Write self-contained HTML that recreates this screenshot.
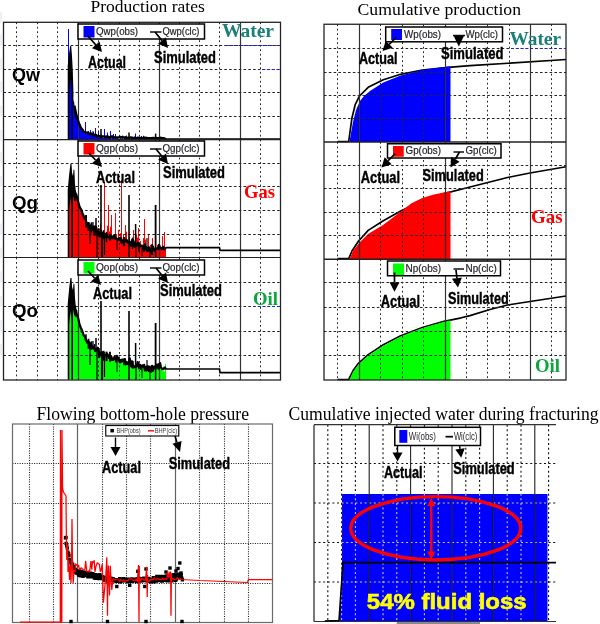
<!DOCTYPE html>
<html><head><meta charset="utf-8"><title>Production history match</title>
<style>html,body{margin:0;padding:0;background:#fff}svg{display:block}</style></head>
<body>
<svg width="600" height="624" viewBox="0 0 600 624">
<defs><filter id="soft" x="0" y="0" width="600" height="624" filterUnits="userSpaceOnUse"><feGaussianBlur stdDeviation="0.45"/></filter></defs>
<rect width="600" height="624" fill="#fff"/>
<g filter="url(#soft)">
<text x="90.5" y="12.1" font-family='"Liberation Serif","Times New Roman",serif' font-size="17.5" font-weight="normal" fill="#000" textLength="114.3" lengthAdjust="spacingAndGlyphs" >Production rates</text>
<text x="357.5" y="15.1" font-family='"Liberation Serif","Times New Roman",serif' font-size="17.6" font-weight="normal" fill="#000" textLength="163.5" lengthAdjust="spacingAndGlyphs" >Cumulative production</text>
<text x="36.5" y="419.8" font-family='"Liberation Serif","Times New Roman",serif' font-size="18" font-weight="normal" fill="#000" textLength="212.5" lengthAdjust="spacingAndGlyphs" >Flowing bottom-hole pressure</text>
<text x="288.5" y="419.8" font-family='"Liberation Serif","Times New Roman",serif' font-size="18" font-weight="normal" fill="#000" textLength="310.0" lengthAdjust="spacingAndGlyphs" >Cumulative injected water during fracturing</text>
<path d="M68,139.1 V29.0 H69 V54.5 H70 V54.9 H71 V62.6 H72 V80.1 H73 V101.2 H74 V107.2 H75 V111.7 H76 V115.7 H77 V119.1 H78 V121.9 H79 V124.9 H80 V127.6 H81 V128.5 H82 V131.2 H83 V131.5 H84 V132.3 H85 V122.0 H86 V133.9 H87 V131.6 H88 V131.1 H89 V134.1 H90 V130.0 H91 V134.9 H92 V134.9 H93 V132.0 H94 V135.1 H95 V128.0 H96 V136.7 H97 V136.7 H98 V132.0 H99 V137.2 H100 V137.5 H101 V136.6 H102 V136.7 H103 V137.9 H104 V129.0 H105 V138.0 H106 V137.1 H107 V132.5 H108 V137.5 H109 V137.6 H110 V131.0 H111 V138.3 H112 V137.8 H113 V134.1 H114 V138.3 H115 V134.0 H116 V138.6 H117 V137.8 H118 V138.9 H119 V138.8 H120 V137.9 H121 V138.9 H122 V137.4 H123 V138.8 H124 V136.7 H125 V138.0 H126 V135.4 H127 V139.1 H128 V139.0 H129 V138.1 H130 V138.6 H131 V137.7 H132 V139.1 H133 V139.1 H134 V138.6 H135 V133.6 H136 V138.9 H137 V136.7 H138 V137.2 H139 V139.1 H140 V139.1 H141 V136.0 H142 V137.7 H143 V135.8 H144 V138.4 H145 V136.8 H146 V138.7 H147 V138.6 H148 V138.5 H149 V139.1 H150 V138.3 H151 V139.1 H152 V138.5 H153 V138.4 H154 V138.6 H155 V138.8 H156 V137.7 H157 V138.9 H158 V138.9 H159 V139.1 H160 V139.1 H161 V139.1 H162 V139.1 H163 V139.1 H164 V139.1 H165 V139.1 H166 V139.1 Z" fill="#0000ff"/>
<path d="M68,257.0 V199.2 H69 V196.8 H70 V192.9 H71 V191.3 H72 V189.9 H73 V190.7 H74 V191.1 H75 V193.1 H76 V195.9 H77 V198.8 H78 V202.7 H79 V205.6 H80 V209.2 H81 V211.9 H82 V214.1 H83 V216.0 H84 V217.9 H85 V220.2 H86 V222.3 H87 V222.9 H88 V225.2 H89 V227.6 H90 V228.2 H91 V228.9 H92 V229.5 H93 V229.3 H94 V230.1 H95 V231.6 H96 V227.7 H97 V228.5 H98 V228.1 H99 V234.2 H100 V223.2 H101 V229.6 H102 V234.9 H103 V234.6 H104 V182.0 H105 V235.2 H106 V235.7 H107 V225.8 H108 V205.0 H109 V231.6 H110 V226.7 H111 V215.0 H112 V239.0 H113 V237.4 H114 V237.7 H115 V213.0 H116 V234.3 H117 V239.1 H118 V230.0 H119 V240.2 H120 V233.3 H121 V181.0 H122 V241.1 H123 V234.2 H124 V240.2 H125 V225.0 H126 V231.7 H127 V242.1 H128 V242.1 H129 V237.0 H130 V242.5 H131 V241.4 H132 V243.7 H133 V230.0 H134 V243.6 H135 V245.2 H136 V234.2 H137 V237.5 H138 V228.0 H139 V245.6 H140 V241.1 H141 V247.2 H142 V246.8 H143 V238.0 H144 V219.0 H145 V239.6 H146 V249.4 H147 V249.7 H148 V235.0 H149 V250.3 H150 V244.9 H151 V249.6 H152 V238.0 H153 V249.0 H154 V248.2 H155 V248.7 H156 V248.8 H157 V245.1 H158 V247.3 H159 V246.8 H160 V247.6 H161 V248.9 H162 V236.0 H163 V247.1 H164 V232.0 H165 V248.0 H166 V257.0 Z" fill="#ff0000"/>
<path d="M68,379.5 V317.7 H69 V313.2 H70 V308.1 H71 V302.3 H72 V302.4 H73 V304.3 H74 V307.1 H75 V310.0 H76 V313.8 H77 V318.1 H78 V320.7 H79 V324.5 H80 V326.9 H81 V330.6 H82 V332.8 H83 V335.2 H84 V338.4 H85 V338.8 H86 V341.2 H87 V339.7 H88 V344.2 H89 V344.9 H90 V346.2 H91 V347.1 H92 V347.9 H93 V347.6 H94 V349.4 H95 V348.9 H96 V348.6 H97 V348.3 H98 V351.2 H99 V351.9 H100 V352.3 H101 V353.8 H102 V354.3 H103 V354.7 H104 V352.3 H105 V355.8 H106 V355.2 H107 V354.0 H108 V357.1 H109 V357.4 H110 V357.6 H111 V358.4 H112 V358.1 H113 V359.0 H114 V359.0 H115 V357.2 H116 V359.5 H117 V360.1 H118 V359.4 H119 V359.9 H120 V360.5 H121 V358.4 H122 V360.7 H123 V362.4 H124 V361.3 H125 V361.6 H126 V363.1 H127 V363.3 H128 V362.4 H129 V361.5 H130 V364.0 H131 V364.3 H132 V363.7 H133 V364.7 H134 V365.2 H135 V365.0 H136 V367.0 H137 V366.8 H138 V364.9 H139 V368.0 H140 V367.8 H141 V367.6 H142 V368.4 H143 V366.6 H144 V367.8 H145 V369.3 H146 V368.3 H147 V368.4 H148 V369.2 H149 V369.3 H150 V369.4 H151 V369.6 H152 V369.3 H153 V368.4 H154 V368.4 H155 V368.0 H156 V368.2 H157 V367.3 H158 V368.7 H159 V368.6 H160 V368.4 H161 V369.1 H162 V370.2 H163 V371.2 H164 V371.4 H165 V364.0 H166 V379.5 Z" fill="#00ff00"/>
<line x1="16.5" y1="22.3" x2="16.5" y2="139.6" stroke="#262626" stroke-width="1.0" stroke-dasharray="1.8 2.7"/>
<line x1="37.5" y1="22.3" x2="37.5" y2="139.6" stroke="#262626" stroke-width="1.0" stroke-dasharray="1.8 2.7"/>
<line x1="57.5" y1="22.3" x2="57.5" y2="139.6" stroke="#262626" stroke-width="1.0" stroke-dasharray="1.8 2.7"/>
<line x1="98.5" y1="22.3" x2="98.5" y2="139.6" stroke="#262626" stroke-width="1.0" stroke-dasharray="1.8 2.7"/>
<line x1="119.5" y1="22.3" x2="119.5" y2="139.6" stroke="#262626" stroke-width="1.0" stroke-dasharray="1.8 2.7"/>
<line x1="139.5" y1="22.3" x2="139.5" y2="139.6" stroke="#262626" stroke-width="1.0" stroke-dasharray="1.8 2.7"/>
<line x1="179.5" y1="22.3" x2="179.5" y2="139.6" stroke="#262626" stroke-width="1.0" stroke-dasharray="1.8 2.7"/>
<line x1="199.5" y1="22.3" x2="199.5" y2="139.6" stroke="#262626" stroke-width="1.0" stroke-dasharray="1.8 2.7"/>
<line x1="219.5" y1="22.3" x2="219.5" y2="139.6" stroke="#262626" stroke-width="1.0" stroke-dasharray="1.8 2.7"/>
<line x1="260.5" y1="22.3" x2="260.5" y2="139.6" stroke="#262626" stroke-width="1.0" stroke-dasharray="1.8 2.7"/>
<line x1="78.5" y1="22.3" x2="78.5" y2="139.6" stroke="#333" stroke-width="1.2"/>
<line x1="159.5" y1="22.3" x2="159.5" y2="139.6" stroke="#333" stroke-width="1.2"/>
<line x1="240.5" y1="22.3" x2="240.5" y2="139.6" stroke="#333" stroke-width="1.2"/>
<line x1="3.5" y1="45.5" x2="280.5" y2="45.5" stroke="#262626" stroke-width="1.0" stroke-dasharray="2.6 2.2"/>
<line x1="3.5" y1="69.5" x2="280.5" y2="69.5" stroke="#262626" stroke-width="1.0" stroke-dasharray="2.6 2.2"/>
<line x1="3.5" y1="92.5" x2="280.5" y2="92.5" stroke="#262626" stroke-width="1.0" stroke-dasharray="2.6 2.2"/>
<line x1="3.5" y1="116.5" x2="280.5" y2="116.5" stroke="#262626" stroke-width="1.0" stroke-dasharray="2.6 2.2"/>
<line x1="16.5" y1="139.6" x2="16.5" y2="257.5" stroke="#262626" stroke-width="1.0" stroke-dasharray="1.8 2.7"/>
<line x1="37.5" y1="139.6" x2="37.5" y2="257.5" stroke="#262626" stroke-width="1.0" stroke-dasharray="1.8 2.7"/>
<line x1="57.5" y1="139.6" x2="57.5" y2="257.5" stroke="#262626" stroke-width="1.0" stroke-dasharray="1.8 2.7"/>
<line x1="98.5" y1="139.6" x2="98.5" y2="257.5" stroke="#262626" stroke-width="1.0" stroke-dasharray="1.8 2.7"/>
<line x1="119.5" y1="139.6" x2="119.5" y2="257.5" stroke="#262626" stroke-width="1.0" stroke-dasharray="1.8 2.7"/>
<line x1="139.5" y1="139.6" x2="139.5" y2="257.5" stroke="#262626" stroke-width="1.0" stroke-dasharray="1.8 2.7"/>
<line x1="179.5" y1="139.6" x2="179.5" y2="257.5" stroke="#262626" stroke-width="1.0" stroke-dasharray="1.8 2.7"/>
<line x1="199.5" y1="139.6" x2="199.5" y2="257.5" stroke="#262626" stroke-width="1.0" stroke-dasharray="1.8 2.7"/>
<line x1="219.5" y1="139.6" x2="219.5" y2="257.5" stroke="#262626" stroke-width="1.0" stroke-dasharray="1.8 2.7"/>
<line x1="260.5" y1="139.6" x2="260.5" y2="257.5" stroke="#262626" stroke-width="1.0" stroke-dasharray="1.8 2.7"/>
<line x1="78.5" y1="139.6" x2="78.5" y2="257.5" stroke="#333" stroke-width="1.2"/>
<line x1="159.5" y1="139.6" x2="159.5" y2="257.5" stroke="#333" stroke-width="1.2"/>
<line x1="240.5" y1="139.6" x2="240.5" y2="257.5" stroke="#333" stroke-width="1.2"/>
<line x1="3.5" y1="163.5" x2="280.5" y2="163.5" stroke="#262626" stroke-width="1.0" stroke-dasharray="2.6 2.2"/>
<line x1="3.5" y1="186.5" x2="280.5" y2="186.5" stroke="#262626" stroke-width="1.0" stroke-dasharray="2.6 2.2"/>
<line x1="3.5" y1="210.5" x2="280.5" y2="210.5" stroke="#262626" stroke-width="1.0" stroke-dasharray="2.6 2.2"/>
<line x1="3.5" y1="234.5" x2="280.5" y2="234.5" stroke="#262626" stroke-width="1.0" stroke-dasharray="2.6 2.2"/>
<line x1="16.5" y1="257.5" x2="16.5" y2="380" stroke="#262626" stroke-width="1.0" stroke-dasharray="1.8 2.7"/>
<line x1="37.5" y1="257.5" x2="37.5" y2="380" stroke="#262626" stroke-width="1.0" stroke-dasharray="1.8 2.7"/>
<line x1="57.5" y1="257.5" x2="57.5" y2="380" stroke="#262626" stroke-width="1.0" stroke-dasharray="1.8 2.7"/>
<line x1="98.5" y1="257.5" x2="98.5" y2="380" stroke="#262626" stroke-width="1.0" stroke-dasharray="1.8 2.7"/>
<line x1="119.5" y1="257.5" x2="119.5" y2="380" stroke="#262626" stroke-width="1.0" stroke-dasharray="1.8 2.7"/>
<line x1="139.5" y1="257.5" x2="139.5" y2="380" stroke="#262626" stroke-width="1.0" stroke-dasharray="1.8 2.7"/>
<line x1="179.5" y1="257.5" x2="179.5" y2="380" stroke="#262626" stroke-width="1.0" stroke-dasharray="1.8 2.7"/>
<line x1="199.5" y1="257.5" x2="199.5" y2="380" stroke="#262626" stroke-width="1.0" stroke-dasharray="1.8 2.7"/>
<line x1="219.5" y1="257.5" x2="219.5" y2="380" stroke="#262626" stroke-width="1.0" stroke-dasharray="1.8 2.7"/>
<line x1="260.5" y1="257.5" x2="260.5" y2="380" stroke="#262626" stroke-width="1.0" stroke-dasharray="1.8 2.7"/>
<line x1="78.5" y1="257.5" x2="78.5" y2="380" stroke="#333" stroke-width="1.2"/>
<line x1="159.5" y1="257.5" x2="159.5" y2="380" stroke="#333" stroke-width="1.2"/>
<line x1="240.5" y1="257.5" x2="240.5" y2="380" stroke="#333" stroke-width="1.2"/>
<line x1="3.5" y1="282.5" x2="280.5" y2="282.5" stroke="#262626" stroke-width="1.0" stroke-dasharray="2.6 2.2"/>
<line x1="3.5" y1="306.5" x2="280.5" y2="306.5" stroke="#262626" stroke-width="1.0" stroke-dasharray="2.6 2.2"/>
<line x1="3.5" y1="331.5" x2="280.5" y2="331.5" stroke="#262626" stroke-width="1.0" stroke-dasharray="2.6 2.2"/>
<line x1="3.5" y1="355.5" x2="280.5" y2="355.5" stroke="#262626" stroke-width="1.0" stroke-dasharray="2.6 2.2"/>
<path d="M67.7,139.1 L67.7,66 L69,54 L70.2,46 L71.2,46 L72,56 L72.8,71 L73.6,98 L75,109.0 L76.2,113.0 L75.6,120.0 L74,110 L73,94 L73,139.1 L71.4,139.1 L71.4,88 L70.4,79 L69.3,92 L69.3,139.1 Z" fill="#000"/>
<path d="M74.5,105.8 L75.3,110.1 L76.1,113.4 L76.9,116.5 L77.7,119.6 L78.5,121.9 L79.3,124.1 L80.1,125.8 L80.9,127.6 L81.7,128.8 L82.5,129.6 L83.3,131.1 L84.1,131.9 L84.9,132.3 L85.7,132.7 L86.5,132.5 L87.3,132.9 L88.1,133.7 L88.9,133.4 L89.7,133.8 L90.5,133.4 L91.3,133.8 L92.1,133.7 L92.9,135.1 L93.7,135.4 L94.5,134.7 L95.3,135.0 L96.1,135.0 L96.9,136.7 L97.7,136.1 L98.5,135.6 L99.3,136.2 L100.1,136.7 L100.9,135.6 L101.7,136.4 L102.5,136.5 L103.3,136.3 L104.1,136.7 L104.9,137.0 L105.7,136.5 L106.5,136.3 L107.3,137.0 L108.1,136.7 L108.9,136.9 L109.7,137.7 L110.5,137.0 L111.3,136.8 L112.1,136.3 L112.9,137.2 L113.7,137.2 L114.5,137.4 L115.3,137.4 L116.1,137.6 L116.9,137.4 L117.7,137.4 L118.5,137.7 L119.3,137.1 L120.1,137.0 L120.9,137.1 L121.7,137.6 L122.5,136.7 L123.3,137.4 L124.1,137.6 L124.9,137.9 L125.7,137.2 L126.5,137.8 L127.3,137.8 L128.1,137.6 L128.9,137.9 L129.7,137.8 L130.5,137.4 L131.3,137.8 L132.1,137.6 L132.9,138.1 L133.7,138.0 L134.5,137.8 L135.3,137.4 L136.1,138.1 L136.9,138.1 L137.7,138.1 L138.5,137.6 L139.3,137.8 L140.1,137.8 L140.9,138.1 L141.7,137.9 L142.5,138.1 L143.3,138.1 L144.1,137.5 L144.9,138.1 L145.7,138.1 L146.5,137.7 L147.3,138.1 L148.1,138.1 L148.9,138.1 L149.7,138.1 L150.5,138.1 L151.3,138.1 L152.1,138.1 L152.9,138.0 L153.7,138.0 L154.5,138.1 L155.3,138.1 L156.1,137.8 L156.9,138.1 L157.7,138.1 L158.5,138.1 L159.3,138.1 L160.1,138.0 L160.9,137.7 L161.7,138.1 L162.5,138.1 L163.3,138.1 L164.1,138.1 L164.9,138.1" fill="none" stroke="#000" stroke-width="2.3" stroke-linejoin="round"/>
<path d="M164.9,138.1 L166,138.9 L200,139 L280.5,139" fill="none" stroke="#000" stroke-width="1.7" stroke-linejoin="miter"/>
<line x1="101" y1="129" x2="101" y2="138.1" stroke="#000" stroke-width="1.5"/>
<line x1="129" y1="132.4" x2="129" y2="139.9" stroke="#000" stroke-width="1.5"/>
<line x1="155.6" y1="133.6" x2="155.6" y2="140.6" stroke="#000" stroke-width="1.5"/>
<line x1="93" y1="131" x2="93" y2="136.7" stroke="#000" stroke-width="1"/>
<path d="M67.7,257.0 L67.7,190 L69.2,174 L70.4,164 L71.5,164 L72.1,173 L73,176 L73.5,169.5 L74.4,170 L75,184 L76.2,194.2 L75.6,201.2 L74.2,201 L73,195 L73,257.0 L71.4,257.0 L71.4,206 L70.4,197 L69.3,210 L69.3,257.0 Z" fill="#000"/>
<path d="M74.5,190.6 L75.3,192.7 L76.1,194.2 L76.9,196.9 L77.7,200.1 L78.5,203.4 L79.3,205.9 L80.1,207.8 L80.9,209.3 L81.7,210.4 L82.5,213.8 L83.3,214.9 L84.1,218.1 L84.9,218.8 L85.7,219.1 L86.5,223.5 L87.3,223.1 L88.1,223.1 L88.9,225.6 L89.7,226.6 L90.5,227.9 L91.3,224.7 L92.1,228.4 L92.9,229.6 L93.7,227.1 L94.5,232.1 L95.3,230.0 L96.1,227.0 L96.9,234.1 L97.7,231.0 L98.5,232.3 L99.3,232.3 L100.1,236.6 L100.9,233.5 L101.7,232.5 L102.5,232.9 L103.3,235.4 L104.1,235.8 L104.9,233.8 L105.7,237.1 L106.5,234.4 L107.3,236.3 L108.1,237.3 L108.9,237.2 L109.7,237.5 L110.5,237.7 L111.3,236.4 L112.1,237.9 L112.9,238.3 L113.7,235.6 L114.5,235.4 L115.3,238.7 L116.1,238.3 L116.9,238.8 L117.7,240.0 L118.5,239.5 L119.3,238.0 L120.1,240.1 L120.9,238.1 L121.7,242.7 L122.5,241.7 L123.3,240.1 L124.1,239.1 L124.9,241.5 L125.7,240.5 L126.5,239.7 L127.3,242.2 L128.1,241.7 L128.9,243.3 L129.7,241.7 L130.5,245.7 L131.3,245.7 L132.1,240.1 L132.9,239.6 L133.7,241.9 L134.5,246.7 L135.3,245.4 L136.1,244.8 L136.9,245.4 L137.7,243.0 L138.5,245.8 L139.3,244.0 L140.1,246.5 L140.9,245.8 L141.7,245.7 L142.5,245.9 L143.3,248.2 L144.1,250.8 L144.9,244.5 L145.7,249.1 L146.5,247.3 L147.3,251.0 L148.1,250.5 L148.9,247.3 L149.7,249.2 L150.5,251.6 L151.3,251.8 L152.1,247.6 L152.9,246.7 L153.7,248.9 L154.5,250.6 L155.3,249.7 L156.1,248.5 L156.9,248.7 L157.7,248.5 L158.5,247.5 L159.3,245.6 L160.1,248.4 L160.9,248.0 L161.7,249.0 L162.5,247.5 L163.3,246.8 L164.1,249.3 L164.9,249.6" fill="none" stroke="#000" stroke-width="2.3" stroke-linejoin="round"/>
<path d="M164.9,249.6 L166,247.7 L219.5,247.7 L220,250.4 L280.5,250.4" fill="none" stroke="#000" stroke-width="1.7" stroke-linejoin="miter"/>
<line x1="101" y1="185" x2="101" y2="235.4" stroke="#000" stroke-width="1.6"/>
<line x1="129" y1="195" x2="129" y2="243.7" stroke="#000" stroke-width="1.6"/>
<line x1="155.6" y1="205" x2="155.6" y2="249.9" stroke="#000" stroke-width="1.8"/>
<line x1="135.6" y1="224" x2="135.6" y2="246.2" stroke="#000" stroke-width="1.5"/>
<line x1="96" y1="218" x2="96" y2="232.6" stroke="#000" stroke-width="1.5"/>
<line x1="93" y1="222" x2="93" y2="230.8" stroke="#000" stroke-width="1.2"/>
<line x1="147" y1="238" x2="147" y2="250.1" stroke="#000" stroke-width="1.2"/>
<line x1="86" y1="215.0" x2="86" y2="227.2" stroke="#000" stroke-width="1.9"/>
<line x1="88.5" y1="222.2" x2="88.5" y2="231.0" stroke="#000" stroke-width="2.4"/>
<line x1="91.5" y1="222.3" x2="91.5" y2="232.6" stroke="#000" stroke-width="1.7"/>
<line x1="94.5" y1="225.4" x2="94.5" y2="235.7" stroke="#000" stroke-width="2.4"/>
<line x1="99" y1="228.4" x2="99" y2="236.9" stroke="#000" stroke-width="1.6"/>
<line x1="103.5" y1="230.2" x2="103.5" y2="239.1" stroke="#000" stroke-width="1.5"/>
<line x1="106.5" y1="231.8" x2="106.5" y2="242.2" stroke="#000" stroke-width="1.5"/>
<line x1="110" y1="234.0" x2="110" y2="240.5" stroke="#000" stroke-width="2.2"/>
<line x1="124" y1="237.0" x2="124" y2="246.3" stroke="#000" stroke-width="2.3"/>
<line x1="132.5" y1="237.5" x2="132.5" y2="249.0" stroke="#000" stroke-width="1.4"/>
<line x1="139" y1="241.8" x2="139" y2="251.7" stroke="#000" stroke-width="1.5"/>
<line x1="152" y1="244.2" x2="152" y2="255.0" stroke="#000" stroke-width="2.3"/>
<line x1="158.5" y1="243.9" x2="158.5" y2="249.9" stroke="#000" stroke-width="1.2"/>
<line x1="90" y1="227.0" x2="90" y2="244" stroke="#000" stroke-width="1.3"/>
<line x1="97" y1="231.2" x2="97" y2="257" stroke="#000" stroke-width="1.3"/>
<line x1="102" y1="233.8" x2="102" y2="257" stroke="#000" stroke-width="2.2"/>
<line x1="104.5" y1="234.8" x2="104.5" y2="255" stroke="#000" stroke-width="1.2"/>
<line x1="129" y1="241.7" x2="129" y2="257" stroke="#000" stroke-width="1.5"/>
<line x1="136" y1="244.4" x2="136" y2="257" stroke="#000" stroke-width="1.2"/>
<line x1="117" y1="238.4" x2="117" y2="250" stroke="#000" stroke-width="1"/>
<line x1="142" y1="246.6" x2="142" y2="256" stroke="#000" stroke-width="1"/>
<line x1="155.6" y1="247.9" x2="155.6" y2="257" stroke="#000" stroke-width="1.5"/>
<line x1="150" y1="249.0" x2="150" y2="257" stroke="#000" stroke-width="1"/>
<path d="M67.7,379.5 L67.7,304 L69.2,288 L70.4,278 L71.5,278 L72.1,287 L73,290 L73.5,283.5 L74.4,284 L75,298 L76.2,310.8 L75.6,317.8 L74.2,315 L73,309 L73,379.5 L71.4,379.5 L71.4,320 L70.4,311 L69.3,324 L69.3,379.5 Z" fill="#000"/>
<path d="M74.5,305.6 L75.3,308.8 L76.1,311.0 L76.9,315.2 L77.7,316.8 L78.5,319.7 L79.3,323.6 L80.1,325.8 L80.9,327.9 L81.7,329.7 L82.5,331.9 L83.3,334.2 L84.1,336.1 L84.9,336.6 L85.7,339.8 L86.5,340.7 L87.3,342.9 L88.1,343.1 L88.9,341.9 L89.7,348.1 L90.5,343.4 L91.3,346.8 L92.1,345.6 L92.9,348.1 L93.7,347.6 L94.5,348.8 L95.3,351.0 L96.1,349.5 L96.9,349.6 L97.7,347.7 L98.5,350.6 L99.3,356.9 L100.1,353.7 L100.9,353.4 L101.7,352.3 L102.5,354.2 L103.3,356.4 L104.1,353.4 L104.9,355.2 L105.7,355.7 L106.5,355.9 L107.3,354.0 L108.1,355.6 L108.9,357.9 L109.7,355.8 L110.5,359.3 L111.3,356.5 L112.1,359.9 L112.9,359.9 L113.7,359.0 L114.5,357.0 L115.3,357.8 L116.1,361.6 L116.9,356.0 L117.7,358.3 L118.5,358.0 L119.3,361.1 L120.1,362.2 L120.9,360.0 L121.7,361.6 L122.5,359.6 L123.3,360.7 L124.1,359.3 L124.9,359.1 L125.7,364.3 L126.5,362.1 L127.3,362.8 L128.1,364.0 L128.9,361.9 L129.7,358.3 L130.5,362.0 L131.3,366.3 L132.1,361.4 L132.9,367.7 L133.7,365.7 L134.5,367.2 L135.3,367.1 L136.1,366.6 L136.9,365.6 L137.7,362.1 L138.5,366.6 L139.3,364.5 L140.1,365.0 L140.9,368.7 L141.7,365.9 L142.5,365.5 L143.3,367.0 L144.1,364.9 L144.9,370.3 L145.7,367.2 L146.5,370.4 L147.3,366.4 L148.1,366.3 L148.9,371.0 L149.7,366.7 L150.5,371.4 L151.3,371.5 L152.1,365.9 L152.9,370.8 L153.7,366.8 L154.5,366.6 L155.3,368.0 L156.1,365.3 L156.9,364.7 L157.7,366.7 L158.5,368.3 L159.3,367.3 L160.1,363.1 L160.9,367.4 L161.7,368.3 L162.5,369.2 L163.3,369.1 L164.1,368.5 L164.9,366.8" fill="none" stroke="#000" stroke-width="2.3" stroke-linejoin="round"/>
<path d="M164.9,366.8 L166,369 L219.5,369 L220,372.6 L280.5,372.6" fill="none" stroke="#000" stroke-width="1.7" stroke-linejoin="miter"/>
<line x1="101" y1="301" x2="101" y2="354.5" stroke="#000" stroke-width="1.6"/>
<line x1="129" y1="311" x2="129" y2="364.7" stroke="#000" stroke-width="1.6"/>
<line x1="155.6" y1="323" x2="155.6" y2="369.9" stroke="#000" stroke-width="1.8"/>
<line x1="135.6" y1="343" x2="135.6" y2="367.2" stroke="#000" stroke-width="1.5"/>
<line x1="96" y1="338" x2="96" y2="351.2" stroke="#000" stroke-width="1.5"/>
<line x1="93" y1="341" x2="93" y2="349.1" stroke="#000" stroke-width="1.2"/>
<line x1="147" y1="360" x2="147" y2="370.4" stroke="#000" stroke-width="1.2"/>
<line x1="86" y1="334.2" x2="86" y2="341.6" stroke="#000" stroke-width="1.5"/>
<line x1="88.5" y1="338.7" x2="88.5" y2="348.7" stroke="#000" stroke-width="1.8"/>
<line x1="91.5" y1="341.3" x2="91.5" y2="349.8" stroke="#000" stroke-width="1.7"/>
<line x1="94.5" y1="344.1" x2="94.5" y2="350.2" stroke="#000" stroke-width="1.4"/>
<line x1="99" y1="347.9" x2="99" y2="356.6" stroke="#000" stroke-width="1.4"/>
<line x1="103.5" y1="350.8" x2="103.5" y2="360.7" stroke="#000" stroke-width="2.0"/>
<line x1="106.5" y1="351.6" x2="106.5" y2="361.2" stroke="#000" stroke-width="2.1"/>
<line x1="110" y1="351.7" x2="110" y2="361.8" stroke="#000" stroke-width="1.9"/>
<line x1="124" y1="358.8" x2="124" y2="365.3" stroke="#000" stroke-width="1.7"/>
<line x1="132.5" y1="361.0" x2="132.5" y2="367.8" stroke="#000" stroke-width="2.3"/>
<line x1="139" y1="363.7" x2="139" y2="369.2" stroke="#000" stroke-width="1.6"/>
<line x1="152" y1="365.9" x2="152" y2="370.7" stroke="#000" stroke-width="2.3"/>
<line x1="158.5" y1="363.1" x2="158.5" y2="369.4" stroke="#000" stroke-width="1.8"/>
<line x1="90" y1="345.0" x2="90" y2="365" stroke="#000" stroke-width="1.3"/>
<line x1="97" y1="349.9" x2="97" y2="380" stroke="#000" stroke-width="1.3"/>
<line x1="102" y1="353.0" x2="102" y2="380" stroke="#000" stroke-width="2.2"/>
<line x1="104.5" y1="354.2" x2="104.5" y2="377" stroke="#000" stroke-width="1.2"/>
<line x1="129" y1="362.7" x2="129" y2="380" stroke="#000" stroke-width="1.5"/>
<line x1="136" y1="365.4" x2="136" y2="380" stroke="#000" stroke-width="1.2"/>
<line x1="117" y1="359.1" x2="117" y2="372" stroke="#000" stroke-width="1"/>
<line x1="142" y1="367.4" x2="142" y2="378" stroke="#000" stroke-width="1"/>
<line x1="155.6" y1="367.9" x2="155.6" y2="380" stroke="#000" stroke-width="1.5"/>
<line x1="150" y1="369.0" x2="150" y2="380" stroke="#000" stroke-width="1"/>
<rect x="3.5" y="22.3" width="277.0" height="357.7" fill="none" stroke="#222" stroke-width="1.3"/>
<line x1="3.5" y1="139.6" x2="280.5" y2="139.6" stroke="#222" stroke-width="1.2"/>
<line x1="3.5" y1="257.5" x2="280.5" y2="257.5" stroke="#222" stroke-width="1.2"/>
<line x1="226" y1="45.5" x2="280" y2="45.5" stroke="#2222cc" stroke-width="1.1" stroke-dasharray="2.8 2"/>
<line x1="262" y1="69.5" x2="280" y2="69.5" stroke="#2222cc" stroke-width="1.1" stroke-dasharray="2.8 2"/>
<line x1="253" y1="306.5" x2="280" y2="306.5" stroke="#2222cc" stroke-width="1.1" stroke-dasharray="2.8 2"/>
<rect x="0.3" y="34.3" width="1.6" height="11" fill="#8888cc" opacity="0.18"/>
<rect x="0.3" y="58.2" width="1.6" height="11" fill="#8888cc" opacity="0.18"/>
<rect x="0.3" y="81.7" width="1.6" height="11" fill="#8888cc" opacity="0.18"/>
<rect x="0.3" y="105.5" width="1.6" height="11" fill="#8888cc" opacity="0.18"/>
<rect x="0.3" y="12.3" width="1.6" height="11" fill="#8888cc" opacity="0.18"/>
<rect x="0.3" y="152.1" width="1.6" height="11" fill="#8888cc" opacity="0.18"/>
<rect x="0.3" y="175.8" width="1.6" height="11" fill="#8888cc" opacity="0.18"/>
<rect x="0.3" y="199.5" width="1.6" height="11" fill="#8888cc" opacity="0.18"/>
<rect x="0.3" y="223.6" width="1.6" height="11" fill="#8888cc" opacity="0.18"/>
<rect x="0.3" y="129.6" width="1.6" height="11" fill="#8888cc" opacity="0.18"/>
<rect x="0.3" y="271.2" width="1.6" height="11" fill="#8888cc" opacity="0.18"/>
<rect x="0.3" y="295.8" width="1.6" height="11" fill="#8888cc" opacity="0.18"/>
<rect x="0.3" y="320" width="1.6" height="11" fill="#8888cc" opacity="0.18"/>
<rect x="0.3" y="344" width="1.6" height="11" fill="#8888cc" opacity="0.18"/>
<rect x="0.3" y="247.5" width="1.6" height="11" fill="#8888cc" opacity="0.18"/>
<rect x="78" y="24" width="126.5" height="15" fill="#fff" stroke="#000" stroke-width="1.5"/>
<rect x="83.5" y="26" width="11.0" height="11.5" fill="#0000ff"/>
<text x="96" y="34.968" font-family='"Liberation Sans",Arial,sans-serif' font-size="10.2" font-weight="normal" fill="#26262c" textLength="42" lengthAdjust="spacingAndGlyphs" stroke="#26262c" stroke-width="0.2">Qwp(obs)</text>
<text x="162.5" y="34.968" font-family='"Liberation Sans",Arial,sans-serif' font-size="10.2" font-weight="normal" fill="#26262c" textLength="37.0" lengthAdjust="spacingAndGlyphs" stroke="#26262c" stroke-width="0.2">Qwp(clc)</text>
<line x1="150" y1="32" x2="161.5" y2="32" stroke="#111" stroke-width="1.5"/>
<rect x="78" y="141" width="126.5" height="15" fill="#fff" stroke="#000" stroke-width="1.5"/>
<rect x="83.5" y="143" width="11.0" height="11.5" fill="#ff0000"/>
<text x="96" y="151.968" font-family='"Liberation Sans",Arial,sans-serif' font-size="10.2" font-weight="normal" fill="#26262c" textLength="42" lengthAdjust="spacingAndGlyphs" stroke="#26262c" stroke-width="0.2">Qgp(obs)</text>
<text x="162.5" y="151.968" font-family='"Liberation Sans",Arial,sans-serif' font-size="10.2" font-weight="normal" fill="#26262c" textLength="37.0" lengthAdjust="spacingAndGlyphs" stroke="#26262c" stroke-width="0.2">Qgp(clc)</text>
<line x1="150" y1="149" x2="161.5" y2="149" stroke="#111" stroke-width="1.5"/>
<rect x="78" y="260" width="126.5" height="15" fill="#fff" stroke="#000" stroke-width="1.5"/>
<rect x="83.5" y="262" width="11.0" height="11.5" fill="#00ff00"/>
<text x="96" y="270.968" font-family='"Liberation Sans",Arial,sans-serif' font-size="10.2" font-weight="normal" fill="#26262c" textLength="42" lengthAdjust="spacingAndGlyphs" stroke="#26262c" stroke-width="0.2">Qop(obs)</text>
<text x="162.5" y="270.968" font-family='"Liberation Sans",Arial,sans-serif' font-size="10.2" font-weight="normal" fill="#26262c" textLength="37.0" lengthAdjust="spacingAndGlyphs" stroke="#26262c" stroke-width="0.2">Qop(clc)</text>
<line x1="150" y1="268" x2="161.5" y2="268" stroke="#111" stroke-width="1.5"/>
<line x1="88" y1="36" x2="95.74" y2="44.85" stroke="#000" stroke-width="1.7"/>
<polygon points="102.00,52.00 91.98,48.14 99.51,41.56" fill="#000"/>
<line x1="155" y1="32" x2="162.01" y2="40.63" stroke="#000" stroke-width="1.7"/>
<polygon points="168.00,48.00 158.13,43.78 165.89,37.47" fill="#000"/>
<text x="88" y="68" font-family='"Liberation Sans",Arial,sans-serif' font-size="15.8" font-weight="bold" fill="#000" textLength="38" lengthAdjust="spacingAndGlyphs" stroke="#000" stroke-width="0.4">Actual</text>
<text x="154" y="63" font-family='"Liberation Sans",Arial,sans-serif' font-size="15.8" font-weight="bold" fill="#000" textLength="62" lengthAdjust="spacingAndGlyphs" stroke="#000" stroke-width="0.4">Simulated</text>
<line x1="89" y1="153" x2="95.54" y2="160.04" stroke="#000" stroke-width="1.7"/>
<polygon points="102.00,167.00 91.87,163.44 99.20,156.64" fill="#000"/>
<line x1="156" y1="149" x2="162.07" y2="156.58" stroke="#000" stroke-width="1.7"/>
<polygon points="168.00,164.00 158.16,159.71 165.97,153.46" fill="#000"/>
<text x="96" y="182.5" font-family='"Liberation Sans",Arial,sans-serif' font-size="15.8" font-weight="bold" fill="#000" textLength="39" lengthAdjust="spacingAndGlyphs" stroke="#000" stroke-width="0.4">Actual</text>
<text x="163" y="177.5" font-family='"Liberation Sans",Arial,sans-serif' font-size="15.8" font-weight="bold" fill="#000" textLength="62" lengthAdjust="spacingAndGlyphs" stroke="#000" stroke-width="0.4">Simulated</text>
<line x1="88" y1="271" x2="94.54" y2="278.04" stroke="#000" stroke-width="1.7"/>
<polygon points="101.00,285.00 90.87,281.44 98.20,274.64" fill="#000"/>
<line x1="156" y1="268" x2="162.07" y2="275.58" stroke="#000" stroke-width="1.7"/>
<polygon points="168.00,283.00 158.16,278.71 165.97,272.46" fill="#000"/>
<text x="93" y="299" font-family='"Liberation Sans",Arial,sans-serif' font-size="15.8" font-weight="bold" fill="#000" textLength="39" lengthAdjust="spacingAndGlyphs" stroke="#000" stroke-width="0.4">Actual</text>
<text x="160" y="295.5" font-family='"Liberation Sans",Arial,sans-serif' font-size="15.8" font-weight="bold" fill="#000" textLength="62" lengthAdjust="spacingAndGlyphs" stroke="#000" stroke-width="0.4">Simulated</text>
<text x="12" y="81" font-family='"Liberation Sans",Arial,sans-serif' font-size="18.5" font-weight="bold" fill="#000" textLength="28" lengthAdjust="spacingAndGlyphs" >Qw</text>
<text x="12" y="209" font-family='"Liberation Sans",Arial,sans-serif' font-size="18.5" font-weight="bold" fill="#000" textLength="26" lengthAdjust="spacingAndGlyphs" >Qg</text>
<text x="12" y="317" font-family='"Liberation Sans",Arial,sans-serif' font-size="18.5" font-weight="bold" fill="#000" textLength="26" lengthAdjust="spacingAndGlyphs" >Qo</text>
<text x="222" y="37" font-family='"Liberation Serif","Times New Roman",serif' font-size="19" font-weight="bold" fill="#1b7f7c" textLength="52" lengthAdjust="spacingAndGlyphs" >Water</text>
<text x="244" y="198" font-family='"Liberation Serif","Times New Roman",serif' font-size="19" font-weight="bold" fill="#ff0000" textLength="31" lengthAdjust="spacingAndGlyphs" >Gas</text>
<text x="253" y="304.5" font-family='"Liberation Serif","Times New Roman",serif' font-size="19" font-weight="bold" fill="#0aa53c" textLength="25" lengthAdjust="spacingAndGlyphs" >Oil</text>
<path d="M337.5,141.5 L348.7,141.5 L352,117.7 L355.2,104.7 L359.5,96 L368.2,87.3 L383.3,79.8 L400.7,74.3 L422.3,70 L448.3,67.4 L470,65.7 L566,59.5" fill="none" stroke="#000" stroke-width="1.7" stroke-linejoin="round"/>
<path d="M337.5,258.7 L348.7,258.7 L352,251 L358.4,241.3 L368.2,230.4 L383.3,220.7 L400.7,211 L422,201 L444,193.6 L470,187 L507.5,177.5 L530,173 L566,166.75" fill="none" stroke="#000" stroke-width="1.7" stroke-linejoin="round"/>
<path d="M337.5,379.5 L348.7,379.5 L353,370.8 L358.4,363.3 L368.2,354.6 L383.3,344.8 L400.7,335.7 L422.3,327.5 L444,321.4 L461.3,317.8 L470,315.6 L490,309.5 L507.5,305 L530,301.5 L566,296" fill="none" stroke="#000" stroke-width="1.7" stroke-linejoin="round"/>
<path d="M349.5,142 L349.5,141.5 L353,122 L356,110 L360,101 L364,96 L370,91 L383.3,82.6 L400.7,75.4 L422.3,70 L440,67.5 L450.5,66.2 L450.5,142 Z" fill="#0000ff"/>
<path d="M349.5,259.25 L349.5,259 L353,251 L359,243 L368,234 L383,225 L395,216 L402,210.5 L411.5,203.3 L422.3,198 L433,194.7 L448.3,191.4 L450.5,191.2 L450.5,259.25 Z" fill="#ff0000"/>
<path d="M349.5,380 L349.5,380 L353,372 L358.4,364.5 L368.2,355.6 L383.3,345.8 L400.7,336.5 L422.3,328 L444,321.8 L450.5,320.5 L450.5,380 Z" fill="#00ff00"/>
<line x1="337.5" y1="24.25" x2="337.5" y2="142" stroke="#262626" stroke-width="1.0" stroke-dasharray="1.8 2.7"/>
<line x1="380.5" y1="24.25" x2="380.5" y2="142" stroke="#262626" stroke-width="1.0" stroke-dasharray="1.8 2.7"/>
<line x1="402.5" y1="24.25" x2="402.5" y2="142" stroke="#262626" stroke-width="1.0" stroke-dasharray="1.8 2.7"/>
<line x1="423.5" y1="24.25" x2="423.5" y2="142" stroke="#262626" stroke-width="1.0" stroke-dasharray="1.8 2.7"/>
<line x1="466.5" y1="24.25" x2="466.5" y2="142" stroke="#262626" stroke-width="1.0" stroke-dasharray="1.8 2.7"/>
<line x1="487.5" y1="24.25" x2="487.5" y2="142" stroke="#262626" stroke-width="1.0" stroke-dasharray="1.8 2.7"/>
<line x1="509.5" y1="24.25" x2="509.5" y2="142" stroke="#262626" stroke-width="1.0" stroke-dasharray="1.8 2.7"/>
<line x1="551.5" y1="24.25" x2="551.5" y2="142" stroke="#262626" stroke-width="1.0" stroke-dasharray="1.8 2.7"/>
<line x1="359.5" y1="24.25" x2="359.5" y2="142" stroke="#333" stroke-width="1.2"/>
<line x1="445.5" y1="24.25" x2="445.5" y2="142" stroke="#333" stroke-width="1.2"/>
<line x1="530.5" y1="24.25" x2="530.5" y2="142" stroke="#333" stroke-width="1.2"/>
<line x1="324" y1="48.5" x2="566" y2="48.5" stroke="#262626" stroke-width="1.0" stroke-dasharray="2.6 2.2"/>
<line x1="324" y1="72.5" x2="566" y2="72.5" stroke="#262626" stroke-width="1.0" stroke-dasharray="2.6 2.2"/>
<line x1="324" y1="95.5" x2="566" y2="95.5" stroke="#262626" stroke-width="1.0" stroke-dasharray="2.6 2.2"/>
<line x1="324" y1="118.5" x2="566" y2="118.5" stroke="#262626" stroke-width="1.0" stroke-dasharray="2.6 2.2"/>
<line x1="337.5" y1="142" x2="337.5" y2="259.25" stroke="#262626" stroke-width="1.0" stroke-dasharray="1.8 2.7"/>
<line x1="380.5" y1="142" x2="380.5" y2="259.25" stroke="#262626" stroke-width="1.0" stroke-dasharray="1.8 2.7"/>
<line x1="402.5" y1="142" x2="402.5" y2="259.25" stroke="#262626" stroke-width="1.0" stroke-dasharray="1.8 2.7"/>
<line x1="423.5" y1="142" x2="423.5" y2="259.25" stroke="#262626" stroke-width="1.0" stroke-dasharray="1.8 2.7"/>
<line x1="466.5" y1="142" x2="466.5" y2="259.25" stroke="#262626" stroke-width="1.0" stroke-dasharray="1.8 2.7"/>
<line x1="487.5" y1="142" x2="487.5" y2="259.25" stroke="#262626" stroke-width="1.0" stroke-dasharray="1.8 2.7"/>
<line x1="509.5" y1="142" x2="509.5" y2="259.25" stroke="#262626" stroke-width="1.0" stroke-dasharray="1.8 2.7"/>
<line x1="551.5" y1="142" x2="551.5" y2="259.25" stroke="#262626" stroke-width="1.0" stroke-dasharray="1.8 2.7"/>
<line x1="359.5" y1="142" x2="359.5" y2="259.25" stroke="#333" stroke-width="1.2"/>
<line x1="445.5" y1="142" x2="445.5" y2="259.25" stroke="#333" stroke-width="1.2"/>
<line x1="530.5" y1="142" x2="530.5" y2="259.25" stroke="#333" stroke-width="1.2"/>
<line x1="324" y1="165.5" x2="566" y2="165.5" stroke="#262626" stroke-width="1.0" stroke-dasharray="2.6 2.2"/>
<line x1="324" y1="188.5" x2="566" y2="188.5" stroke="#262626" stroke-width="1.0" stroke-dasharray="2.6 2.2"/>
<line x1="324" y1="212.5" x2="566" y2="212.5" stroke="#262626" stroke-width="1.0" stroke-dasharray="2.6 2.2"/>
<line x1="324" y1="235.5" x2="566" y2="235.5" stroke="#262626" stroke-width="1.0" stroke-dasharray="2.6 2.2"/>
<line x1="337.5" y1="259.25" x2="337.5" y2="380" stroke="#262626" stroke-width="1.0" stroke-dasharray="1.8 2.7"/>
<line x1="380.5" y1="259.25" x2="380.5" y2="380" stroke="#262626" stroke-width="1.0" stroke-dasharray="1.8 2.7"/>
<line x1="402.5" y1="259.25" x2="402.5" y2="380" stroke="#262626" stroke-width="1.0" stroke-dasharray="1.8 2.7"/>
<line x1="423.5" y1="259.25" x2="423.5" y2="380" stroke="#262626" stroke-width="1.0" stroke-dasharray="1.8 2.7"/>
<line x1="466.5" y1="259.25" x2="466.5" y2="380" stroke="#262626" stroke-width="1.0" stroke-dasharray="1.8 2.7"/>
<line x1="487.5" y1="259.25" x2="487.5" y2="380" stroke="#262626" stroke-width="1.0" stroke-dasharray="1.8 2.7"/>
<line x1="509.5" y1="259.25" x2="509.5" y2="380" stroke="#262626" stroke-width="1.0" stroke-dasharray="1.8 2.7"/>
<line x1="551.5" y1="259.25" x2="551.5" y2="380" stroke="#262626" stroke-width="1.0" stroke-dasharray="1.8 2.7"/>
<line x1="359.5" y1="259.25" x2="359.5" y2="380" stroke="#333" stroke-width="1.2"/>
<line x1="445.5" y1="259.25" x2="445.5" y2="380" stroke="#333" stroke-width="1.2"/>
<line x1="530.5" y1="259.25" x2="530.5" y2="380" stroke="#333" stroke-width="1.2"/>
<line x1="324" y1="282.5" x2="566" y2="282.5" stroke="#262626" stroke-width="1.0" stroke-dasharray="2.6 2.2"/>
<line x1="324" y1="307.5" x2="566" y2="307.5" stroke="#262626" stroke-width="1.0" stroke-dasharray="2.6 2.2"/>
<line x1="324" y1="331.5" x2="566" y2="331.5" stroke="#262626" stroke-width="1.0" stroke-dasharray="2.6 2.2"/>
<line x1="324" y1="355.5" x2="566" y2="355.5" stroke="#262626" stroke-width="1.0" stroke-dasharray="2.6 2.2"/>
<rect x="324" y="24.25" width="242" height="355.75" fill="none" stroke="#222" stroke-width="1.3"/>
<line x1="324" y1="142" x2="566" y2="142" stroke="#222" stroke-width="1.4"/>
<line x1="324" y1="259.25" x2="566" y2="259.25" stroke="#222" stroke-width="1.4"/>
<line x1="511" y1="48.5" x2="566" y2="48.5" stroke="#2222cc" stroke-width="1.1" stroke-dasharray="2.8 2"/>
<rect x="385.7" y="27" width="116.80000000000001" height="14.799999999999997" fill="#fff" stroke="#000" stroke-width="1.5"/>
<rect x="391.2" y="29" width="10.800000000000011" height="11" fill="#0000ff"/>
<text x="404" y="37.867999999999995" font-family='"Liberation Sans",Arial,sans-serif' font-size="10.2" font-weight="normal" fill="#26262c" textLength="37" lengthAdjust="spacingAndGlyphs" stroke="#26262c" stroke-width="0.2">Wp(obs)</text>
<text x="465.5" y="37.867999999999995" font-family='"Liberation Sans",Arial,sans-serif' font-size="10.2" font-weight="normal" fill="#26262c" textLength="32.5" lengthAdjust="spacingAndGlyphs" stroke="#26262c" stroke-width="0.2">Wp(clc)</text>
<line x1="453" y1="35.5" x2="465" y2="35.5" stroke="#111" stroke-width="1.5"/>
<rect x="387.5" y="143.75" width="113.5" height="14.25" fill="#fff" stroke="#000" stroke-width="1.5"/>
<rect x="393" y="146" width="10.75" height="10.75" fill="#ff0000"/>
<text x="405.5" y="154.343" font-family='"Liberation Sans",Arial,sans-serif' font-size="10.2" font-weight="normal" fill="#26262c" textLength="35.5" lengthAdjust="spacingAndGlyphs" stroke="#26262c" stroke-width="0.2">Gp(obs)</text>
<text x="465.5" y="154.343" font-family='"Liberation Sans",Arial,sans-serif' font-size="10.2" font-weight="normal" fill="#26262c" textLength="31.25" lengthAdjust="spacingAndGlyphs" stroke="#26262c" stroke-width="0.2">Gp(clc)</text>
<line x1="453.5" y1="152" x2="464" y2="152" stroke="#111" stroke-width="1.5"/>
<rect x="387.5" y="261" width="113.0" height="14.75" fill="#fff" stroke="#000" stroke-width="1.5"/>
<rect x="393" y="263.5" width="11" height="11.5" fill="#00ff00"/>
<text x="405.5" y="271.843" font-family='"Liberation Sans",Arial,sans-serif' font-size="10.2" font-weight="normal" fill="#26262c" textLength="35.5" lengthAdjust="spacingAndGlyphs" stroke="#26262c" stroke-width="0.2">Np(obs)</text>
<text x="465.5" y="271.843" font-family='"Liberation Sans",Arial,sans-serif' font-size="10.2" font-weight="normal" fill="#26262c" textLength="31.25" lengthAdjust="spacingAndGlyphs" stroke="#26262c" stroke-width="0.2">Np(clc)</text>
<line x1="453.5" y1="269" x2="464" y2="269" stroke="#111" stroke-width="1.5"/>
<line x1="396" y1="37.5" x2="389.22" y2="44.28" stroke="#000" stroke-width="1.7"/>
<polygon points="382.50,51.00 385.68,40.75 392.75,47.82" fill="#000"/>
<polygon points="453.7,36 464,36 458.8,46.5" fill="#000"/>
<text x="359" y="64" font-family='"Liberation Sans",Arial,sans-serif' font-size="15.8" font-weight="bold" fill="#000" textLength="38.5" lengthAdjust="spacingAndGlyphs" stroke="#000" stroke-width="0.4">Actual</text>
<text x="441" y="59" font-family='"Liberation Sans",Arial,sans-serif' font-size="15.8" font-weight="bold" fill="#000" textLength="62.5" lengthAdjust="spacingAndGlyphs" stroke="#000" stroke-width="0.4">Simulated</text>
<line x1="395" y1="153.75" x2="388.16" y2="160.72" stroke="#000" stroke-width="1.7"/>
<polygon points="381.50,167.50 384.59,157.22 391.72,164.22" fill="#000"/>
<line x1="459.5" y1="152" x2="455.27" y2="159.28" stroke="#000" stroke-width="1.7"/>
<polygon points="450.50,167.50 450.95,156.77 459.59,161.80" fill="#000"/>
<text x="360.75" y="183" font-family='"Liberation Sans",Arial,sans-serif' font-size="15.8" font-weight="bold" fill="#000" textLength="39.25" lengthAdjust="spacingAndGlyphs" stroke="#000" stroke-width="0.4">Actual</text>
<text x="422.5" y="181.25" font-family='"Liberation Sans",Arial,sans-serif' font-size="15.8" font-weight="bold" fill="#000" textLength="61.25" lengthAdjust="spacingAndGlyphs" stroke="#000" stroke-width="0.4">Simulated</text>
<line x1="394.5" y1="272.5" x2="394.50" y2="282.30" stroke="#000" stroke-width="1.7"/>
<polygon points="394.50,291.80 389.50,282.30 399.50,282.30" fill="#000"/>
<line x1="456" y1="270" x2="456.92" y2="278.06" stroke="#000" stroke-width="1.7"/>
<polygon points="458.00,287.50 451.95,278.63 461.89,277.49" fill="#000"/>
<text x="380.75" y="307" font-family='"Liberation Sans",Arial,sans-serif' font-size="15.8" font-weight="bold" fill="#000" textLength="39.25" lengthAdjust="spacingAndGlyphs" stroke="#000" stroke-width="0.4">Actual</text>
<text x="448" y="303.75" font-family='"Liberation Sans",Arial,sans-serif' font-size="15.8" font-weight="bold" fill="#000" textLength="60.75" lengthAdjust="spacingAndGlyphs" stroke="#000" stroke-width="0.4">Simulated</text>
<text x="509.5" y="45" font-family='"Liberation Serif","Times New Roman",serif' font-size="19" font-weight="bold" fill="#1b7f7c" textLength="51.5" lengthAdjust="spacingAndGlyphs" >Water</text>
<text x="531" y="223" font-family='"Liberation Serif","Times New Roman",serif' font-size="19" font-weight="bold" fill="#ff0000" textLength="31.5" lengthAdjust="spacingAndGlyphs" >Gas</text>
<text x="535" y="372" font-family='"Liberation Serif","Times New Roman",serif' font-size="19" font-weight="bold" fill="#0aa53c" textLength="25" lengthAdjust="spacingAndGlyphs" >Oil</text>
<line x1="29.5" y1="424" x2="29.5" y2="622.5" stroke="#1a1a1a" stroke-width="1.1" stroke-dasharray="1 1.4"/>
<line x1="53.5" y1="424" x2="53.5" y2="622.5" stroke="#1a1a1a" stroke-width="1.1" stroke-dasharray="1 1.4"/>
<line x1="102.5" y1="424" x2="102.5" y2="622.5" stroke="#1a1a1a" stroke-width="1.1" stroke-dasharray="1 1.4"/>
<line x1="126.5" y1="424" x2="126.5" y2="622.5" stroke="#1a1a1a" stroke-width="1.1" stroke-dasharray="1 1.4"/>
<line x1="150.5" y1="424" x2="150.5" y2="622.5" stroke="#1a1a1a" stroke-width="1.1" stroke-dasharray="1 1.4"/>
<line x1="199.5" y1="424" x2="199.5" y2="622.5" stroke="#1a1a1a" stroke-width="1.1" stroke-dasharray="1 1.4"/>
<line x1="224.5" y1="424" x2="224.5" y2="622.5" stroke="#1a1a1a" stroke-width="1.1" stroke-dasharray="1 1.4"/>
<line x1="248.5" y1="424" x2="248.5" y2="622.5" stroke="#1a1a1a" stroke-width="1.1" stroke-dasharray="1 1.4"/>
<line x1="77.5" y1="424" x2="77.5" y2="622.5" stroke="#606060" stroke-width="1.2"/>
<line x1="175.5" y1="424" x2="175.5" y2="622.5" stroke="#606060" stroke-width="1.2"/>
<line x1="12.5" y1="463.5" x2="272.5" y2="463.5" stroke="#1a1a1a" stroke-width="1.1" stroke-dasharray="1 1.4"/>
<line x1="12.5" y1="503.5" x2="272.5" y2="503.5" stroke="#1a1a1a" stroke-width="1.1" stroke-dasharray="1 1.4"/>
<line x1="12.5" y1="543.5" x2="272.5" y2="543.5" stroke="#1a1a1a" stroke-width="1.1" stroke-dasharray="1 1.4"/>
<line x1="12.5" y1="583.5" x2="272.5" y2="583.5" stroke="#1a1a1a" stroke-width="1.1" stroke-dasharray="1 1.4"/>
<rect x="12.5" y="424" width="260.0" height="198.5" fill="none" stroke="#6a6a6a" stroke-width="1.2"/>
<path d="M63.8,536.1h3.4v3.4h-3.4zM64.4,541.8h3.4v3.4h-3.4zM65.0,544.1h3.4v3.4h-3.4zM65.6,546.4h3.4v3.4h-3.4zM66.2,550.6h3.4v3.4h-3.4zM66.9,551.9h3.4v3.4h-3.4zM67.3,554.0h3.4v3.4h-3.4zM68.1,558.0h3.4v3.4h-3.4zM68.4,560.1h3.4v3.4h-3.4zM69.2,561.0h3.4v3.4h-3.4zM69.8,560.9h3.4v3.4h-3.4zM70.2,563.1h3.4v3.4h-3.4zM70.6,562.6h3.4v3.4h-3.4zM71.0,562.7h3.4v3.4h-3.4zM71.6,565.0h3.4v3.4h-3.4zM72.3,566.4h3.4v3.4h-3.4zM73.0,567.3h3.4v3.4h-3.4zM73.6,568.1h3.4v3.4h-3.4zM74.1,570.8h3.4v3.4h-3.4zM74.9,571.3h3.4v3.4h-3.4zM75.6,569.2h3.4v3.4h-3.4zM76.0,569.4h3.4v3.4h-3.4zM76.4,571.9h3.4v3.4h-3.4zM76.9,572.6h3.4v3.4h-3.4zM77.4,573.5h3.4v3.4h-3.4zM78.2,569.3h3.4v3.4h-3.4zM78.6,573.8h3.4v3.4h-3.4zM79.2,574.2h3.4v3.4h-3.4zM79.7,570.0h3.4v3.4h-3.4zM80.3,573.4h3.4v3.4h-3.4zM80.8,570.2h3.4v3.4h-3.4zM81.3,574.5h3.4v3.4h-3.4zM82.0,570.5h3.4v3.4h-3.4zM82.5,570.5h3.4v3.4h-3.4zM82.8,573.9h3.4v3.4h-3.4zM83.3,572.8h3.4v3.4h-3.4zM83.8,571.1h3.4v3.4h-3.4zM84.5,571.0h3.4v3.4h-3.4zM85.1,571.0h3.4v3.4h-3.4zM85.7,571.5h3.4v3.4h-3.4zM86.2,575.2h3.4v3.4h-3.4zM86.9,572.1h3.4v3.4h-3.4zM87.6,571.8h3.4v3.4h-3.4zM88.1,575.0h3.4v3.4h-3.4zM88.8,571.5h3.4v3.4h-3.4zM89.6,572.2h3.4v3.4h-3.4zM90.0,575.0h3.4v3.4h-3.4zM90.5,572.8h3.4v3.4h-3.4zM90.9,571.9h3.4v3.4h-3.4zM91.5,572.7h3.4v3.4h-3.4zM92.2,573.5h3.4v3.4h-3.4zM92.7,576.4h3.4v3.4h-3.4zM93.3,574.7h3.4v3.4h-3.4zM94.0,572.9h3.4v3.4h-3.4zM94.4,576.5h3.4v3.4h-3.4zM95.2,573.5h3.4v3.4h-3.4zM95.6,575.9h3.4v3.4h-3.4zM96.4,573.5h3.4v3.4h-3.4zM97.1,576.9h3.4v3.4h-3.4zM97.8,574.8h3.4v3.4h-3.4zM98.2,573.1h3.4v3.4h-3.4zM98.9,574.4h3.4v3.4h-3.4zM99.6,574.8h3.4v3.4h-3.4zM100.3,576.8h3.4v3.4h-3.4zM100.8,575.0h3.4v3.4h-3.4zM101.5,575.5h3.4v3.4h-3.4zM101.9,577.3h3.4v3.4h-3.4zM102.7,577.7h3.4v3.4h-3.4zM103.1,578.7h3.4v3.4h-3.4zM103.6,575.9h3.4v3.4h-3.4zM104.1,577.3h3.4v3.4h-3.4zM104.4,576.5h3.4v3.4h-3.4zM105.0,577.8h3.4v3.4h-3.4zM105.4,577.2h3.4v3.4h-3.4zM106.1,579.3h3.4v3.4h-3.4zM106.8,578.4h3.4v3.4h-3.4zM107.4,576.7h3.4v3.4h-3.4zM107.7,576.4h3.4v3.4h-3.4zM108.5,578.7h3.4v3.4h-3.4zM109.3,576.6h3.4v3.4h-3.4zM109.9,578.1h3.4v3.4h-3.4zM110.6,577.7h3.4v3.4h-3.4zM111.4,577.0h3.4v3.4h-3.4zM112.0,579.1h3.4v3.4h-3.4zM112.7,579.1h3.4v3.4h-3.4zM113.4,579.3h3.4v3.4h-3.4zM114.2,577.9h3.4v3.4h-3.4zM114.8,579.7h3.4v3.4h-3.4zM115.6,578.1h3.4v3.4h-3.4zM116.3,579.6h3.4v3.4h-3.4zM116.9,578.8h3.4v3.4h-3.4zM117.4,578.7h3.4v3.4h-3.4zM118.0,577.1h3.4v3.4h-3.4zM118.7,580.1h3.4v3.4h-3.4zM119.4,579.2h3.4v3.4h-3.4zM119.9,579.3h3.4v3.4h-3.4zM120.6,578.3h3.4v3.4h-3.4zM121.3,577.2h3.4v3.4h-3.4zM122.0,577.1h3.4v3.4h-3.4zM122.6,578.5h3.4v3.4h-3.4zM123.0,579.2h3.4v3.4h-3.4zM123.6,579.0h3.4v3.4h-3.4zM124.4,577.8h3.4v3.4h-3.4zM124.7,577.9h3.4v3.4h-3.4zM125.4,577.6h3.4v3.4h-3.4zM125.8,579.8h3.4v3.4h-3.4zM126.5,578.4h3.4v3.4h-3.4zM127.2,578.0h3.4v3.4h-3.4zM127.9,577.5h3.4v3.4h-3.4zM128.4,579.5h3.4v3.4h-3.4zM129.2,579.7h3.4v3.4h-3.4zM129.7,578.7h3.4v3.4h-3.4zM130.2,577.3h3.4v3.4h-3.4zM130.8,579.5h3.4v3.4h-3.4zM131.5,579.1h3.4v3.4h-3.4zM132.3,577.7h3.4v3.4h-3.4zM132.7,578.3h3.4v3.4h-3.4zM133.2,577.5h3.4v3.4h-3.4zM133.7,578.8h3.4v3.4h-3.4zM134.3,577.8h3.4v3.4h-3.4zM135.0,579.9h3.4v3.4h-3.4zM135.6,577.0h3.4v3.4h-3.4zM135.9,579.5h3.4v3.4h-3.4zM136.3,579.0h3.4v3.4h-3.4zM136.9,577.7h3.4v3.4h-3.4zM137.6,576.8h3.4v3.4h-3.4zM138.0,578.2h3.4v3.4h-3.4zM138.4,579.4h3.4v3.4h-3.4zM138.8,577.1h3.4v3.4h-3.4zM139.2,578.7h3.4v3.4h-3.4zM139.8,578.6h3.4v3.4h-3.4zM140.4,579.2h3.4v3.4h-3.4zM141.2,578.7h3.4v3.4h-3.4zM141.6,578.1h3.4v3.4h-3.4zM142.1,576.5h3.4v3.4h-3.4zM142.6,578.8h3.4v3.4h-3.4zM143.0,577.3h3.4v3.4h-3.4zM143.5,578.7h3.4v3.4h-3.4zM144.1,578.4h3.4v3.4h-3.4zM144.8,577.6h3.4v3.4h-3.4zM145.5,579.2h3.4v3.4h-3.4zM145.9,579.3h3.4v3.4h-3.4zM146.6,576.7h3.4v3.4h-3.4zM147.1,578.3h3.4v3.4h-3.4zM147.9,577.4h3.4v3.4h-3.4zM148.5,579.8h3.4v3.4h-3.4zM149.2,580.1h3.4v3.4h-3.4zM149.8,578.5h3.4v3.4h-3.4zM150.2,578.8h3.4v3.4h-3.4zM150.9,578.3h3.4v3.4h-3.4zM151.6,575.9h3.4v3.4h-3.4zM152.4,580.1h3.4v3.4h-3.4zM153.2,577.6h3.4v3.4h-3.4zM153.9,576.3h3.4v3.4h-3.4zM154.6,579.3h3.4v3.4h-3.4zM155.1,574.8h3.4v3.4h-3.4zM155.7,577.4h3.4v3.4h-3.4zM156.4,577.0h3.4v3.4h-3.4zM156.7,578.9h3.4v3.4h-3.4zM157.1,578.8h3.4v3.4h-3.4zM157.5,576.0h3.4v3.4h-3.4zM158.2,574.7h3.4v3.4h-3.4zM158.7,576.9h3.4v3.4h-3.4zM159.3,578.8h3.4v3.4h-3.4zM160.0,579.4h3.4v3.4h-3.4zM160.6,579.4h3.4v3.4h-3.4zM161.0,574.8h3.4v3.4h-3.4zM161.5,575.2h3.4v3.4h-3.4zM162.2,577.3h3.4v3.4h-3.4zM162.8,578.5h3.4v3.4h-3.4zM163.4,575.1h3.4v3.4h-3.4zM163.9,578.5h3.4v3.4h-3.4zM164.7,574.3h3.4v3.4h-3.4zM165.4,579.2h3.4v3.4h-3.4zM166.0,576.6h3.4v3.4h-3.4zM166.5,576.3h3.4v3.4h-3.4zM167.0,576.7h3.4v3.4h-3.4zM167.4,579.2h3.4v3.4h-3.4zM168.0,575.3h3.4v3.4h-3.4zM168.7,576.3h3.4v3.4h-3.4zM169.3,577.2h3.4v3.4h-3.4zM169.6,576.1h3.4v3.4h-3.4zM170.2,579.0h3.4v3.4h-3.4zM170.9,574.1h3.4v3.4h-3.4zM171.5,573.1h3.4v3.4h-3.4zM172.0,577.9h3.4v3.4h-3.4zM172.8,575.5h3.4v3.4h-3.4zM173.3,573.4h3.4v3.4h-3.4zM173.9,578.7h3.4v3.4h-3.4zM174.3,577.6h3.4v3.4h-3.4zM174.7,573.3h3.4v3.4h-3.4zM175.1,576.9h3.4v3.4h-3.4zM175.6,574.4h3.4v3.4h-3.4zM176.3,572.5h3.4v3.4h-3.4zM176.9,572.6h3.4v3.4h-3.4zM177.5,573.5h3.4v3.4h-3.4zM178.0,575.6h3.4v3.4h-3.4zM178.5,574.4h3.4v3.4h-3.4zM179.0,575.5h3.4v3.4h-3.4zM179.5,573.0h3.4v3.4h-3.4zM180.1,576.4h3.4v3.4h-3.4zM180.7,578.0h3.4v3.4h-3.4z" fill="#000"/>
<rect x="69.3" y="619.8" width="3.4" height="3.4" fill="#000"/>
<rect x="105.8" y="619.8" width="3.4" height="3.4" fill="#000"/>
<rect x="144.3" y="619.8" width="3.4" height="3.4" fill="#000"/>
<rect x="180.3" y="619.8" width="3.4" height="3.4" fill="#000"/>
<rect x="115.1" y="584.8" width="3.4" height="3.4" fill="#000"/>
<rect x="127.99999999999999" y="583.5999999999999" width="3.4" height="3.4" fill="#000"/>
<rect x="136.10000000000002" y="569.5999999999999" width="3.4" height="3.4" fill="#000"/>
<rect x="144.3" y="567.3" width="3.4" height="3.4" fill="#000"/>
<rect x="143.10000000000002" y="584.8" width="3.4" height="3.4" fill="#000"/>
<rect x="178.10000000000002" y="561.3" width="3.4" height="3.4" fill="#000"/>
<rect x="168.3" y="566.3" width="3.4" height="3.4" fill="#000"/>
<rect x="64.3" y="535.8" width="3.4" height="3.4" fill="#000"/>
<rect x="174.3" y="569.3" width="3.4" height="3.4" fill="#000"/>
<rect x="179.3" y="571.3" width="3.4" height="3.4" fill="#000"/>
<rect x="176.3" y="566.8" width="3.4" height="3.4" fill="#000"/>
<rect x="164.3" y="570.3" width="3.4" height="3.4" fill="#000"/>
<path d="M20,622 L60.3,622 L60.5,430 L61.2,622 L61.8,622 L62,430 L62.6,488 L63.4,492 L66,496 L66.3,530 L66.8,560 L67.5,545 L68,572 L68.8,560 L69.5,580 L70.3,566 L71,583 L71.6,560 L72,519 L72.5,565 L73.2,583 L74,570 L75,572 L75.5,563.8 L76.7,565.0 L77.9,567.0 L78.5,564.9 L79.5,569.8 L80.7,568.0 L81.4,567.8 L82.4,569.0 L83.4,569.8 L84.2,570.2 L84.9,569.4 L85.6,560.7 L86.8,571.6 L88.0,571.8 L88.9,570.6 L89.6,572.3 L90.9,561.0 L91.8,569.7 L92.5,561.4 L93.6,562.6 L94.2,560.2 L94.9,571.8 L96.0,566.3 L97.3,562.6 L98.5,563.8 L99.3,564.1 L100.3,571.7 L100.9,570.9 L102.2,564.1 L103.4,602.7 L104.6,589.1 L105.6,579.2 L106.8,557.3 L107.5,615.7 L107.7,589.4 L108.4,565.5 L109.5,595.6 L110.3,565.7 L111.0,579.8 L111.8,589.9 L112.8,579.7 L113.6,578.6 L114.6,580.1 L115.3,580.0 L116.3,579.2 L117.6,579.0 L118.4,578.8 L119.4,581.3 L120.1,581.4 L120.7,579.6 L121.7,580.2 L122.7,581.3 L123.5,579.7 L124.7,581.3 L125.5,581.1 L126.7,580.4 L127.7,580.9 L128.3,580.2 L128.9,579.2 L129.9,579.2 L131.2,578.5 L132.5,579.7 L133.4,580.5 L134.2,579.9 L135.3,580.7 L136.1,578.8 L137.3,581.7 L138.5,565 L139,622 L139.3,566 L138.5,579.2 L138.5,565 L139,622 L139.3,566 L139.2,580.3 L140.0,578.9 L140.6,581.3 L141.5,578.4 L142.8,578.6 L143.8,580.5 L144.5,579.5 L145.5,580.6 L146.7,566.7 L147.2,597 L147.6,575 L146.6,581.4 L147.9,581.0 L149.2,581.6 L150.2,579.3 L150.8,580.3 L151.9,579.2 L153.1,580.3 L154.2,577.4 L155.0,578.8 L156.0,580.1 L156.7,579.1 L157.7,578.3 L158.6,578.9 L159.3,579.3 L160.4,579.3 L161.2,579.9 L162.4,578.2 L163.3,579.7 L164.4,578.4 L165.6,579.2 L166.4,579.5 L167.0,579.2 L167.7,571.2 L168.8,577.8 L169.9,571.8 L170.6,572 L171,615.7 L171.4,574 L170.9,582.5 L171.7,579.5 L173.0,578.2 L174.1,579.7 L175.2,579.6 L176.1,579.5 L177.0,577.5 L178.1,578.3 L178.7,578.5 L179.9,579.5 L180.5,578.7 L181,579.5 L200,580.5 L247.5,582.5 L248.5,579.5 L272.5,579.5" fill="none" stroke="#ff0000" stroke-width="1.25" stroke-linejoin="bevel"/>
<rect x="105.75" y="425.5" width="73" height="10.5" fill="#fff" stroke="#111" stroke-width="1.2"/>
<rect x="110.4" y="428.9" width="3.5" height="3.5" fill="#000"/>
<text x="116.5" y="433.2" font-family='"Liberation Sans",Arial,sans-serif' font-size="6.8" font-weight="normal" fill="#3a3640" textLength="24.0" lengthAdjust="spacingAndGlyphs" >BHP(obs)</text>
<line x1="148" y1="430.8" x2="154" y2="430.8" stroke="#ff0000" stroke-width="1.4"/>
<text x="154.7" y="433.2" font-family='"Liberation Sans",Arial,sans-serif' font-size="6.8" font-weight="normal" fill="#3a3640" textLength="22.5" lengthAdjust="spacingAndGlyphs" >BHP(clc)</text>
<line x1="115.5" y1="437.5" x2="115.50" y2="447.00" stroke="#000" stroke-width="1.4"/>
<polygon points="115.50,456.00 110.50,447.00 120.50,447.00" fill="#000"/>
<line x1="175" y1="436" x2="177.02" y2="442.46" stroke="#000" stroke-width="1.5"/>
<polygon points="180.00,452.00 172.48,443.87 181.55,441.04" fill="#000"/>
<text x="102" y="472.5" font-family='"Liberation Sans",Arial,sans-serif' font-size="15.8" font-weight="bold" fill="#000" textLength="39" lengthAdjust="spacingAndGlyphs" stroke="#000" stroke-width="0.4">Actual</text>
<text x="168.75" y="468.75" font-family='"Liberation Sans",Arial,sans-serif' font-size="15.8" font-weight="bold" fill="#000" textLength="61.25" lengthAdjust="spacingAndGlyphs" stroke="#000" stroke-width="0.4">Simulated</text>
<path d="M339.5,621.5 L342,562 L342,494 L547.5,494 L547.5,621.5 Z" fill="#0000ff"/>
<line x1="327.8" y1="424.7" x2="327.8" y2="621.5" stroke="#111" stroke-width="1.1" stroke-dasharray="2 2.6"/>
<line x1="341.6" y1="424.7" x2="341.6" y2="621.5" stroke="#111" stroke-width="1.1" stroke-dasharray="2 2.6"/>
<line x1="355.4" y1="424.7" x2="355.4" y2="621.5" stroke="#111" stroke-width="1.1" stroke-dasharray="2 2.6"/>
<line x1="383" y1="424.7" x2="383" y2="621.5" stroke="#111" stroke-width="1.1" stroke-dasharray="2 2.6"/>
<line x1="396.8" y1="424.7" x2="396.8" y2="621.5" stroke="#111" stroke-width="1.1" stroke-dasharray="2 2.6"/>
<line x1="424.4" y1="424.7" x2="424.4" y2="621.5" stroke="#111" stroke-width="1.1" stroke-dasharray="2 2.6"/>
<line x1="438.2" y1="424.7" x2="438.2" y2="621.5" stroke="#111" stroke-width="1.1" stroke-dasharray="2 2.6"/>
<line x1="465.8" y1="424.7" x2="465.8" y2="621.5" stroke="#111" stroke-width="1.1" stroke-dasharray="2 2.6"/>
<line x1="479.6" y1="424.7" x2="479.6" y2="621.5" stroke="#111" stroke-width="1.1" stroke-dasharray="2 2.6"/>
<line x1="507.2" y1="424.7" x2="507.2" y2="621.5" stroke="#111" stroke-width="1.1" stroke-dasharray="2 2.6"/>
<line x1="521" y1="424.7" x2="521" y2="621.5" stroke="#111" stroke-width="1.1" stroke-dasharray="2 2.6"/>
<line x1="548.6" y1="424.7" x2="548.6" y2="621.5" stroke="#111" stroke-width="1.1" stroke-dasharray="2 2.6"/>
<line x1="314" y1="463.5" x2="556" y2="463.5" stroke="#111" stroke-width="1.1" stroke-dasharray="2 2.6"/>
<line x1="314" y1="503" x2="556" y2="503" stroke="#111" stroke-width="1.1" stroke-dasharray="2 2.6"/>
<line x1="314" y1="542.5" x2="556" y2="542.5" stroke="#111" stroke-width="1.1" stroke-dasharray="2 2.6"/>
<line x1="314" y1="582" x2="556" y2="582" stroke="#111" stroke-width="1.1" stroke-dasharray="2 2.6"/>
<clipPath id="bl"><path d="M339.5,621.5 L342,562 L342,494 L547.5,494 L547.5,621.5 Z"/></clipPath>
<g clip-path="url(#bl)">
<line x1="327.8" y1="424.7" x2="327.8" y2="621.5" stroke="#c8c8ff" stroke-width="1.1" stroke-dasharray="2 2.6"/>
<line x1="341.6" y1="424.7" x2="341.6" y2="621.5" stroke="#c8c8ff" stroke-width="1.1" stroke-dasharray="2 2.6"/>
<line x1="355.4" y1="424.7" x2="355.4" y2="621.5" stroke="#c8c8ff" stroke-width="1.1" stroke-dasharray="2 2.6"/>
<line x1="383" y1="424.7" x2="383" y2="621.5" stroke="#c8c8ff" stroke-width="1.1" stroke-dasharray="2 2.6"/>
<line x1="396.8" y1="424.7" x2="396.8" y2="621.5" stroke="#c8c8ff" stroke-width="1.1" stroke-dasharray="2 2.6"/>
<line x1="424.4" y1="424.7" x2="424.4" y2="621.5" stroke="#c8c8ff" stroke-width="1.1" stroke-dasharray="2 2.6"/>
<line x1="438.2" y1="424.7" x2="438.2" y2="621.5" stroke="#c8c8ff" stroke-width="1.1" stroke-dasharray="2 2.6"/>
<line x1="465.8" y1="424.7" x2="465.8" y2="621.5" stroke="#c8c8ff" stroke-width="1.1" stroke-dasharray="2 2.6"/>
<line x1="479.6" y1="424.7" x2="479.6" y2="621.5" stroke="#c8c8ff" stroke-width="1.1" stroke-dasharray="2 2.6"/>
<line x1="507.2" y1="424.7" x2="507.2" y2="621.5" stroke="#c8c8ff" stroke-width="1.1" stroke-dasharray="2 2.6"/>
<line x1="521" y1="424.7" x2="521" y2="621.5" stroke="#c8c8ff" stroke-width="1.1" stroke-dasharray="2 2.6"/>
<line x1="548.6" y1="424.7" x2="548.6" y2="621.5" stroke="#c8c8ff" stroke-width="1.1" stroke-dasharray="2 2.6"/>
<line x1="314" y1="463.5" x2="556" y2="463.5" stroke="#c8c8ff" stroke-width="1.1" stroke-dasharray="2 2.6"/>
<line x1="314" y1="503" x2="556" y2="503" stroke="#c8c8ff" stroke-width="1.1" stroke-dasharray="2 2.6"/>
<line x1="314" y1="542.5" x2="556" y2="542.5" stroke="#c8c8ff" stroke-width="1.1" stroke-dasharray="2 2.6"/>
<line x1="314" y1="582" x2="556" y2="582" stroke="#c8c8ff" stroke-width="1.1" stroke-dasharray="2 2.6"/>
</g>
<line x1="369.2" y1="424.7" x2="369.2" y2="621.5" stroke="#222" stroke-width="1.1"/>
<line x1="410.6" y1="424.7" x2="410.6" y2="621.5" stroke="#222" stroke-width="1.1"/>
<line x1="452" y1="424.7" x2="452" y2="621.5" stroke="#222" stroke-width="1.1"/>
<line x1="493.4" y1="424.7" x2="493.4" y2="621.5" stroke="#222" stroke-width="1.1"/>
<line x1="534.8" y1="424.7" x2="534.8" y2="621.5" stroke="#222" stroke-width="1.1"/>
<line x1="314" y1="424.7" x2="556" y2="424.7" stroke="#333" stroke-width="1.3"/>
<line x1="314" y1="424.7" x2="314" y2="621.5" stroke="#333" stroke-width="1.3"/>
<line x1="314" y1="621.5" x2="556" y2="621.5" stroke="#333" stroke-width="1.2"/>
<rect x="396.7" y="622" width="83.3" height="2" fill="#888"/>
<path d="M324.7,621 L339,620.5 L343,562.6 L556,562.6" fill="none" stroke="#000" stroke-width="1.6" stroke-linejoin="miter"/>
<ellipse cx="435.8" cy="528.3" rx="85" ry="31.7" fill="none" stroke="#ff0000" stroke-width="3.4"/>
<line x1="431.3" y1="503" x2="431.3" y2="554" stroke="#ff0000" stroke-width="2.4"/>
<polygon points="431.3,498 427.3,506 435.3,506" fill="#ff0000"/><polygon points="431.3,559.5 427.3,551.5 435.3,551.5" fill="#ff0000"/>
<text x="366.8" y="609.3" font-family='"Liberation Sans",Arial,sans-serif' font-size="21.2" font-weight="bold" fill="#ffff00" textLength="159.9" lengthAdjust="spacingAndGlyphs" stroke="#ffff00" stroke-width="0.6">54% fluid loss</text>
<rect x="394.8" y="427.3" width="85.7" height="18.2" fill="#fff" stroke="#000" stroke-width="1.5"/>
<rect x="399.3" y="430" width="8" height="12.8" fill="#0000ff"/>
<text x="408.7" y="440" font-family='"Liberation Sans",Arial,sans-serif' font-size="10.5" font-weight="normal" fill="#26262c" textLength="27.2" lengthAdjust="spacingAndGlyphs" >Wi(obs)</text>
<line x1="445.5" y1="436.7" x2="453" y2="436.7" stroke="#111" stroke-width="1.8"/>
<text x="453.9" y="440" font-family='"Liberation Sans",Arial,sans-serif' font-size="10.5" font-weight="normal" fill="#26262c" textLength="23.4" lengthAdjust="spacingAndGlyphs" >Wi(clc)</text>
<line x1="397.5" y1="445" x2="397.50" y2="452.50" stroke="#000" stroke-width="1.4"/>
<polygon points="397.50,461.50 392.50,452.50 402.50,452.50" fill="#000"/>
<line x1="459.5" y1="445" x2="460.03" y2="448.88" stroke="#000" stroke-width="1.5"/>
<polygon points="461.25,457.80 455.32,449.53 464.74,448.24" fill="#000"/>
<text x="383.9" y="478" font-family='"Liberation Sans",Arial,sans-serif' font-size="15.8" font-weight="bold" fill="#000" textLength="38.6" lengthAdjust="spacingAndGlyphs" stroke="#000" stroke-width="0.4">Actual</text>
<text x="453.3" y="474" font-family='"Liberation Sans",Arial,sans-serif' font-size="15.8" font-weight="bold" fill="#000" textLength="61.4" lengthAdjust="spacingAndGlyphs" stroke="#000" stroke-width="0.4">Simulated</text>
</g>
</svg>
</body></html>
